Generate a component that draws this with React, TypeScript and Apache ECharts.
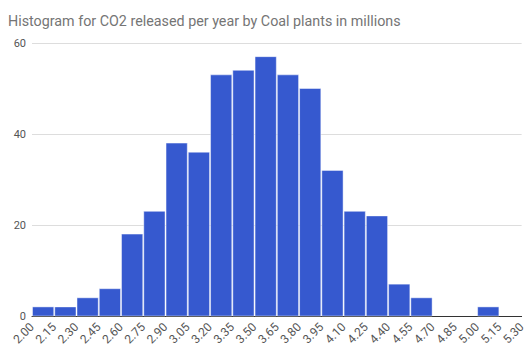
import React, { useEffect, useRef } from "react";
import * as echarts from "echarts";

const titleText = "Histogram for CO2 released per year by Coal plants in millions";
const tickLabels = ["2.00","2.15","2.30","2.45","2.60","2.75","2.90","3.05","3.20","3.35","3.50","3.65","3.80","3.95","4.10","4.25","4.40","4.55","4.70","4.85","5.00","5.15","5.30"];
const counts = [2, 2, 4, 6, 18, 23, 38, 36, 53, 54, 57, 53, 50, 32, 23, 22, 7, 4, 0, 0, 2, 0];
const yTicks = [0, 20, 40, 60];

export default function App() {
  const ref = useRef<HTMLDivElement>(null);
  useEffect(() => {
    const chart = echarts.init(ref.current!, null, { renderer: "svg" });
    const data = counts.map((c, i) => [i, c]);
    chart.setOption({
      animation: false,
      textStyle: { fontFamily: "Roboto" },
      title: {
        text: titleText,
        left: 3,
        top: 9,
        textStyle: { fontSize: 14.3, fontWeight: "normal", color: "#757575", fontFamily: "Roboto" },
      },
      grid: { left: 32, right: 1, top: 43, bottom: 38, containLabel: false },
      xAxis: {
        type: "value",
        min: 0,
        max: tickLabels.length - 1,
        interval: 1,
        splitLine: { show: false },
        axisTick: { show: false },
        axisLine: { show: true, onZero: false, lineStyle: { color: "#333", width: 1 } },
        axisLabel: {
          rotate: 45,
          margin: 9,
          fontSize: 12,
          color: "#555",
          fontFamily: "Roboto",
          formatter: (v: number) => tickLabels[Math.round(v)] ?? "",
        },
      },
      yAxis: {
        type: "value",
        min: yTicks[0],
        max: yTicks[yTicks.length - 1],
        interval: 20,
        axisLine: { show: false },
        axisTick: { show: false },
        splitLine: { lineStyle: { color: "#ddd", width: 1 } },
        axisLabel: { fontSize: 11, color: "#555", margin: 6, fontFamily: "Roboto" },
      },
      series: [
        {
          type: "custom",
          data,
          z: 3,
          renderItem: (params: any, api: any) => {
            const i = api.value(0);
            const v = api.value(1);
            if (!v) return null;
            const p0 = api.coord([i, v]);
            const p1 = api.coord([i + 1, 0]);
            return {
              type: "rect",
              shape: { x: p0[0] + 0.5, y: p0[1], width: p1[0] - p0[0] - 1, height: p1[1] - p0[1] },
              style: { fill: "#3659cf", stroke: "rgba(255,255,255,0.45)", lineWidth: 1 },
            };
          },
        },
      ],
    });
    return () => chart.dispose();
  }, []);
  return <div ref={ref} style={{ width: 528, height: 354, position: "absolute", left: 0, top: 0 }} />;
}
